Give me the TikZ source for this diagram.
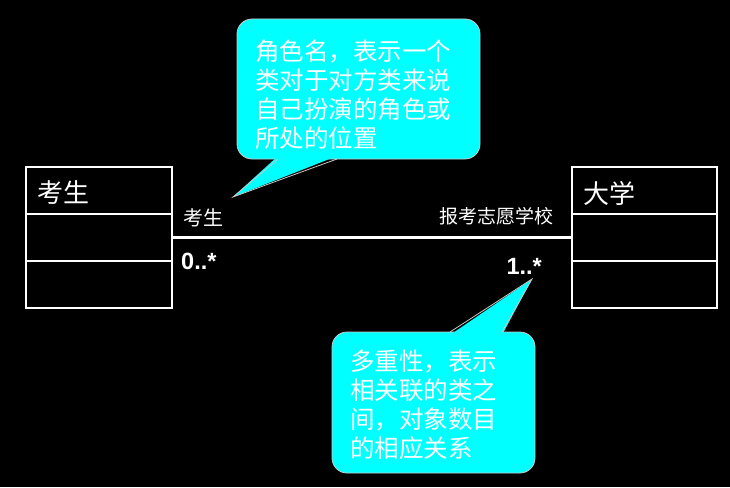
\documentclass[tikz,border=0pt]{standalone}
\usepackage{fontspec}
\setmainfont{Liberation Sans}
\newfontfamily\cjk{Noto Sans CJK SC}
\definecolor{callfill}{RGB}{0,255,255}
\definecolor{callrim}{RGB}{200,200,200}
\begin{document}
\begin{tikzpicture}[x=1pt,y=-1pt,
  classbox/.style={draw=white, line width=2.2pt, inner sep=0pt, outer sep=0pt, minimum width=146pt, minimum height=47pt, anchor=north west},
  titletext/.style={text=white, font=\cjk\fontsize{26}{30}\selectfont, inner sep=0pt, anchor=west},
  rolelabel/.style={text=white, font=\cjk\fontsize{19}{22}\selectfont, inner sep=0pt},
  multlabel/.style={text=white, font=\bfseries\fontsize{23.5}{26}\selectfont, inner sep=0pt},
  assoc/.style={draw=white, line width=2.2pt},
  callbox/.style={draw=callrim, fill=callfill, line width=0.8pt, rounded corners=15pt, inner sep=0pt},
  calltail/.style={fill=callfill},
  tailrim/.style={draw=callrim, line width=0.8pt, line join=miter},
  calltext/.style={text=white, font=\cjk\fontsize{24.5}{29}\selectfont, align=left, inner sep=0pt, anchor=west}
]
\fill[black] (0,0) rectangle (730,487);
\useasboundingbox (0,0) rectangle (730,487);

% class 考生
\node[classbox] (k1) at (26,167) {};
\node[classbox] (k2) at (26,214) {};
\node[classbox] (k3) at (26,261) {};
\node[titletext] (k1t) at (37,193) {考生};

% class 大学
\node[classbox, minimum width=145pt] (d1) at (572,167) {};
\node[classbox, minimum width=145pt] (d2) at (572,214) {};
\node[classbox, minimum width=145pt] (d3) at (572,261) {};
\node[titletext] (d1t) at (583,193) {大学};

% association
\draw[assoc] (k2.east) -- (d2.west);
\node[rolelabel, anchor=west, font=\cjk\fontsize{20}{22}\selectfont] (rl) at (183,218) {考生};
\node[rolelabel, anchor=east] (rr) at (554,216) {报考志愿学校};
\node[multlabel, anchor=west] (ml) at (181,261) {0..*};
\node[multlabel, anchor=east] (mr) at (542,266) {1..*};

% callout 1
\node[callbox, minimum width=243pt, minimum height=140pt] (c1) at (358.5,89) {};
\coordinate (c1a) at (278,159);
\coordinate (c1b) at (337,159);
\coordinate (c1fa) at (278,156);
\coordinate (c1fb) at (337,156);
\coordinate (c1tip) at (233,197);
\fill[calltail] (c1fa) -- (c1tip) -- (c1fb) -- cycle;
\draw[tailrim] (c1a) -- (c1tip) -- (c1b);
\node[calltext] (c1t) at (255,95) {角色名，表示一个\\类对于对方类来说\\自己扮演的角色或\\所处的位置};

% callout 2
\node[callbox, minimum width=203pt, minimum height=141pt] (c2) at (433.5,402.5) {};
\coordinate (c2a) at (450,332);
\coordinate (c2b) at (502,332);
\coordinate (c2fa) at (450,335);
\coordinate (c2fb) at (502,335);
\coordinate (c2tip) at (532,279);
\fill[calltail] (c2fa) -- (c2tip) -- (c2fb) -- cycle;
\draw[tailrim] (c2a) -- (c2tip) -- (c2b);
\node[calltext] (c2t) at (350,405) {多重性，表示\\相关联的类之\\间，对象数目\\的相应关系};
\end{tikzpicture}
\end{document}
